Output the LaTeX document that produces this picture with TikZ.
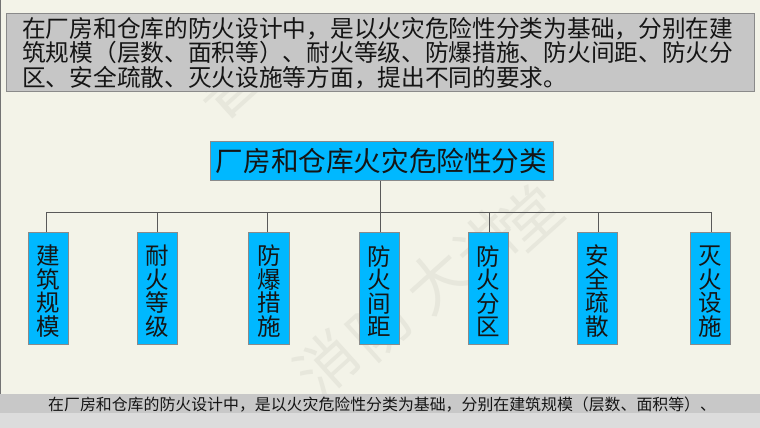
\documentclass[tikz,border=0pt]{standalone}
\usepackage{fontspec}
\setmainfont{Noto Sans CJK SC}
\definecolor{paper}{HTML}{F3F3E8}
\definecolor{boxgrey}{HTML}{C6C6C6}
\definecolor{edgegrey}{HTML}{8A8A8A}
\definecolor{cyanbox}{HTML}{00B8FF}
\definecolor{strip}{HTML}{C8C8C8}
\definecolor{foot}{HTML}{DCDCDC}
\definecolor{wm}{HTML}{E7E7DC}
\definecolor{ink}{HTML}{151515}
\newcommand{\leadstrut}{\rule{0pt}{25pt}}
\tikzset{
  x=1pt,y=-1pt,
  leaf/.style={draw=edgegrey,line width=.8pt,fill=cyanbox,minimum width=40.5pt,minimum height=111.5pt,inner sep=0pt,text=ink,font=\fontsize{23.5}{23.5}\selectfont,align=center},
  link/.style={draw=black!65,line width=.8pt},
  mark text/.style={text=wm,rotate=42,font=\fontsize{60}{60}\selectfont,inner sep=0pt}
}
\begin{document}
\begin{tikzpicture}
\useasboundingbox (0,0) rectangle (760,428);
\fill[paper] (0,0) rectangle (760,428);
\node[mark text,font=\fontsize{76}{76}\selectfont] (w1) at (226,78) {鲁};
\node[mark text] (w2) at (327,363) {消};
\node[mark text] (w3) at (380,327) {防};
\node[mark text] (w4) at (437,280) {大};
\node[mark text] (w5) at (487,243) {讲};
\node[mark text] (w6) at (530,217) {堂};
\draw[black!55,line width=.8pt] (.5,0) -- (.5,413);
\fill[strip] (0,394) rectangle (760,413);
\fill[foot] (0,413) rectangle (760,428);
\node[draw=edgegrey,line width=.8pt,fill=boxgrey,minimum width=747.5pt,minimum height=78.5pt,inner sep=0pt] (intro) at (380.5,52.3) {};
\node[anchor=west,inner sep=0pt,text=ink,font=\fontsize{23.7}{24.3}\selectfont,align=left] (introtext) at (22,53)
 {在厂房和仓库的防火设计中，是以火灾危险性分类为基础，分别在建\\筑规模（层数、面积等）、耐火等级、防爆措施、防火间距、防火分\\区、安全疏散、灭火设施等方面，提出不同的要求。};
\node[draw=edgegrey,line width=.8pt,fill=cyanbox,minimum width=343pt,minimum height=38.5pt,inner sep=0pt,text=ink,font=\fontsize{27.6}{27.6}\selectfont] (title) at (381.5,161) {厂房和仓库火灾危险性分类};
\node[leaf] (a) at (48.2,288.5) {\leadstrut 建\\筑\\规\\模};
\node[leaf] (b) at (157.5,288.5) {\leadstrut 耐\\火\\等\\级};
\node[leaf] (c) at (268.8,288.5) {\leadstrut 防\\爆\\措\\施};
\node[leaf] (d) at (379.2,288.5) {\leadstrut 防\\火\\间\\距};
\node[leaf] (e) at (488.5,288.5) {\leadstrut 防\\火\\分\\区};
\node[leaf] (f) at (597.5,288.5) {\leadstrut 安\\全\\疏\\散};
\node[leaf] (g) at (710.5,288.5) {\leadstrut 灭\\火\\设\\施};
\coordinate (bus) at (380,212);
\draw[link] (title.south -| bus) -- (bus);
\draw[link] (a.north -| 46,0) -- (46,212) -- (711,212) -- (g.north -| 711,0);
\draw[link] (b.north -| 157,0) -- (157,212);
\draw[link] (c.north -| 267,0) -- (267,212);
\draw[link] (d.north -| 380,0) -- (380,212);
\draw[link] (e.north -| 489,0) -- (489,212);
\draw[link] (f.north -| 598,0) -- (598,212);
\node[anchor=west,inner sep=0pt,text=ink,font=\fontsize{15.9}{16}\selectfont] (sub) at (48,405) {在厂房和仓库的防火设计中，是以火灾危险性分类为基础，分别在建筑规模（层数、面积等）、};
\end{tikzpicture}
\end{document}
